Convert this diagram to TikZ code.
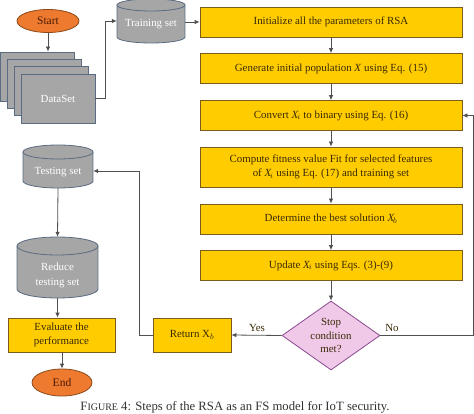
\documentclass[tikz,border=0pt]{standalone}
\usepackage{fontspec}
\setmainfont{Liberation Serif}
\usetikzlibrary{shapes.geometric,arrows.meta}
\definecolor{boxfill}{HTML}{FFCC00}
\definecolor{boxdraw}{HTML}{7A5C1E}
\definecolor{boxtext}{HTML}{3A2A05}
\definecolor{grayfill}{HTML}{A6A6A6}
\definecolor{graydraw}{HTML}{5A6B82}
\definecolor{ovalfill}{HTML}{EE7A30}
\definecolor{ovaldraw}{HTML}{8A4A1A}
\definecolor{ovaltext}{HTML}{4A1A05}
\definecolor{diafill}{HTML}{F0C8E8}
\definecolor{diadraw}{HTML}{8A4A90}
\definecolor{linecol}{HTML}{505050}
\newcommand\drawcyl[5]{%
 \fill[grayfill] (#1-#4,#2) rectangle (#1+#4,#3);
 \fill[grayfill] (#1,#3) ellipse [x radius=#4, y radius=#5];
 \draw[graydraw, line width=0.8pt] (#1-#4,#2) -- (#1-#4,#3) arc[start angle=180, end angle=0, x radius=#4, y radius=#5] -- (#1+#4,#2);
 \draw[graydraw, line width=0.8pt, fill=grayfill] (#1,#2) ellipse [x radius=#4, y radius=#5];
}
\begin{document}
\begin{tikzpicture}[x=1pt,y=-1pt,
 txt/.style={font=\fontsize{10.9}{14}\selectfont},
 procbox/.style={txt, draw=boxdraw, fill=boxfill, line width=0.8pt, text=boxtext, align=center, inner sep=0pt},
 widebox/.style={procbox, minimum width=262pt, minimum height=30pt},
 oval/.style={txt, ellipse, draw=ovaldraw, fill=ovalfill, line width=0.8pt, text=ovaltext, inner sep=0pt},
 stack/.style={draw=graydraw, fill=grayfill, line width=0.8pt, minimum width=74pt, minimum height=49pt, inner sep=0pt},
 frame/.style={inner sep=0pt},
 graytext/.style={txt, text=white, align=center, inner sep=0pt, font=\fontsize{10.9}{15}\selectfont},
 decision/.style={diamond, aspect=1.4, draw=diadraw, fill=diafill, line width=0.8pt, text=boxtext, font=\fontsize{10.9}{13.5}\selectfont, align=center, inner sep=0pt, minimum width=98pt, minimum height=69pt},
 conn/.style={draw=linecol, line width=0.8pt, -{Latex[length=5pt,width=4.5pt]}},
 lbl/.style={txt, text=boxtext, inner sep=0pt}
]
\useasboundingbox (0,0) rectangle (474,414);
\fill[white] (0,0) rectangle (474,414);

% Start
\node[oval, minimum width=62pt, minimum height=23pt, font=\fontsize{11.5}{14}\selectfont] (start) at (48,21) {Start};

% DataSet stack
\node[stack] (ds1) at (37,76.5) {};
\node[stack] (ds2) at (44,84) {};
\node[stack] (ds3) at (51,91) {};
\node[stack, text=white, txt] (data) at (58,98.5) {DataSet};

% Training set cylinder
\drawcyl{151}{5}{37}{34}{6}
\node[frame, minimum width=68pt, minimum height=44pt] (train) at (151,21) {};
\node[graytext] (trainlbl) at (151,24) {Training set};

% Testing set cylinder
\drawcyl{58}{152}{181}{35}{7}
\node[frame, minimum width=70pt, minimum height=43pt] (test) at (58,166.5) {};
\node[graytext] (testlbl) at (58,172) {Testing set};

% Reduce testing set cylinder
\drawcyl{57.5}{246}{289}{40.5}{9}
\node[frame, minimum width=81pt, minimum height=61pt] (reduce) at (57.5,267.5) {};
\node[graytext] (reducelbl) at (57.5,275) {Reduce\\testing set};

% Right column
\node[widebox] (init) at (331,22) {Initialize all the parameters of RSA};
\node[widebox] (gen) at (331,68.5) {Generate initial population \textit{X} using Eq. (15)};
\node[widebox] (conv) at (331,115.5) {Convert \textit{X}$_{\!i}$ to binary using Eq. (16)};
\node[procbox, minimum width=262pt, minimum height=40pt] (fit) at (331,167) {Compute fitness value Fit for selected features\\of \textit{X}$_{\!i}$ using Eq. (17) and training set};
\node[widebox] (best) at (331,219) {Determine the best solution \textit{X}$_{\!b}$};
\node[widebox] (upd) at (331,265.5) {Update \textit{X}$_{\!i}$ using Eqs. (3)-(9)};
\node[decision] (dia) at (331,335.5) {Stop\\condition\\met?};

% Return / Evaluate / End
\node[procbox, minimum width=78pt, minimum height=34pt] (ret) at (192,335) {Return X$_{b}$};
\node[procbox, minimum width=107pt, minimum height=34pt] (eval) at (61.5,335) {Evaluate the\\performance};
\node[oval, minimum width=60pt, minimum height=27pt, font=\fontsize{11.5}{14}\selectfont] (end) at (62,382.5) {End};

% Connectors
\draw[conn] (start) -- (start.south |- ds1.north);
\draw[conn] (data.east) -- ++(10,0) |- (train.west);
\draw[conn] (train.east |- init.west) -- (init.west);
\draw[conn] (init) -- (gen);
\draw[conn] (gen) -- (conv);
\draw[conn] (conv) -- (fit);
\draw[conn] (fit) -- (best);
\draw[conn] (best) -- (upd);
\draw[conn] (upd) -- (dia);
\draw[conn] (dia.west) -- (ret.east);
\coordinate (noturn) at (473,335.5);
\draw[conn] (dia.east) -- (noturn) |- (conv.east);
\draw[conn] (ret.west) -- ++(-13,0) |- ([yshift=-4.5pt]test.east);
\draw[conn] (test.south) -- (reduce.north);
\draw[conn] (reduce.south) -- (reduce.south |- eval.north);
\draw[conn] (eval.south -| end.north) -- (end.north);

\node[lbl] (yes) at (257,328) {Yes};
\node[lbl] (no) at (392,328) {No};

% Caption
\node[anchor=base, text=black!80, font=\fontsize{12.7}{15}\selectfont, inner sep=0pt] (cap) at (235,410)
 {F{\fontsize{10}{12}\selectfont IGURE} 4: Steps of the RSA as an FS model for IoT security.};
\end{tikzpicture}
\end{document}
